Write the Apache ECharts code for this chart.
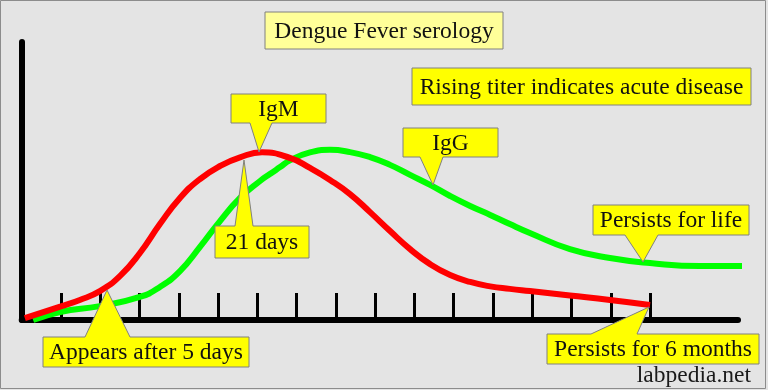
<!DOCTYPE html>
<html><head><meta charset="utf-8">
<script src="https://cdn.jsdelivr.net/npm/echarts@6/dist/echarts.min.js"></script>
<style>html,body{margin:0;padding:0;background:#e4e4e4}#c{width:768px;height:390px}</style>
</head><body><div id="c"></div>
<script>
// IgM (red) curve: x in tick units (one tick = one step), y = relative titer
const igmX = [0.08,1.00,1.48,1.99,2.50,3.01,3.52,4.03,4.54,5.05,5.56,6.12,6.83,7.34,7.85,8.36,8.87,9.38,9.89,10.40,10.91,11.42,11.93,12.43,12.94,13.96,14.98,16.00];
const igmY = [0.7,4.9,7.2,10.4,15.8,24.1,34.5,43.9,50.7,55.4,58.5,60.3,58.3,54.7,50.4,45.3,38.8,32.0,25.5,20.1,16.2,13.7,12.1,11.2,10.4,8.8,7.2,5.4];
// IgG (green) curve
const iggX = [0.29,0.98,1.99,3.01,3.52,4.03,4.54,5.05,5.56,6.07,6.32,6.58,6.83,7.34,7.85,8.36,8.87,9.38,9.89,10.40,10.91,11.42,11.93,12.43,12.94,13.96,14.98,16.00,17.27,18.42];
const iggY = [0,2.9,5.0,8.3,11.9,17.6,26.3,35.6,43.9,50.0,52.5,55.0,57.4,60.3,61.2,60.4,58.6,55.8,52.2,48.6,44.6,41.0,37.8,34.5,31.3,25.5,22.3,20.5,19.4,19.4];
// tick positions on the time axis
const tickDays = [1,2,3,4,5,6,7,8,9,10,11,12,13,14,15,16];
const xMin = 0, xMax = 18.24, yMin = 0, yMax = 100;

// callout annotations (layout, pixels)
const callouts = [
  {text:'Dengue Fever serology', box:[265,12,503,49], fill:'#ffff99'},
  {text:'Rising titer indicates acute disease', box:[412,68,751,105], fill:'#ffff00'},
  {text:'IgM', box:[231,94,326,123], fill:'#ffff00', side:'bottom', base:[250,272], tip:[259,152]},
  {text:'IgG', box:[403,128,498,157], fill:'#ffff00', side:'bottom', base:[420,443], tip:[433,185]},
  {text:'21 days', box:[215,226,309,258], fill:'#ffff00', side:'top', base:[235,253], tip:[244,160]},
  {text:'Persists for life', box:[593,205,749,235], fill:'#ffff00', side:'bottom', base:[625,658], tip:[643,262]},
  {text:'Persists for 6 months', box:[547,334,759,364], fill:'#ffff00', side:'top', base:[591,637], tip:[649,307]},
  {text:'Appears after 5 days', box:[43,337,249,367], fill:'#ffff00', side:'top', base:[85,130], tip:[107,290]}
];

function shapePoints(c){
  const [x0,y0,x1,y1] = c.box;
  if (c.side === 'bottom') {
    return [[x0,y0],[x1,y0],[x1,y1],[c.base[1],y1],c.tip,[c.base[0],y1],[x0,y1]];
  } else if (c.side === 'top') {
    return [[x0,y0],[c.base[0],y0],c.tip,[c.base[1],y0],[x1,y0],[x1,y1],[x0,y1]];
  }
  return [[x0,y0],[x1,y0],[x1,y1],[x0,y1]];
}

const FONT = '23.5px "Liberation Serif", "Times New Roman", serif';
const graphics = [
  {type:'rect', shape:{x:0.5,y:0.5,width:765,height:388}, style:{fill:'none', stroke:'#8c8c8c', lineWidth:1}, z:5}
];
callouts.forEach(c => {
  graphics.push({type:'polygon', shape:{points:shapePoints(c)}, style:{fill:c.fill, stroke:'#808080', lineWidth:1}, z:100});
  graphics.push({type:'text', x:(c.box[0]+c.box[2])/2, y:(c.box[1]+c.box[3])/2+1,
    style:{text:c.text, font:FONT, fill:'#111', align:'center', verticalAlign:'middle'}, z:101});
});
graphics.push({type:'text', x:751, y:376, style:{text:'labpedia.net', font:FONT, fill:'#1a1a1a', align:'right', verticalAlign:'middle'}, z:101});

const chart = echarts.init(document.getElementById('c'), null, {renderer:'canvas'});
chart.setOption({
  animation:false,
  backgroundColor:'#e4e4e4',
  grid:{left:21.7, right:30, top:42, bottom:70, containLabel:false},
  xAxis:{type:'value', min:xMin, max:xMax,
    axisLine:{show:true, lineStyle:{color:'#000', width:6}},
    axisTick:{show:true, inside:true, length:27, customValues:tickDays, lineStyle:{color:'#000', width:3}},
    axisLabel:{show:false}, splitLine:{show:false}},
  yAxis:{type:'value', min:yMin, max:yMax,
    axisLine:{show:true, lineStyle:{color:'#000', width:6}},
    axisTick:{show:false}, axisLabel:{show:false}, splitLine:{show:false}},
  series:[
    {type:'line', name:'IgG', data:iggX.map((x,i)=>[x,iggY[i]]), smooth:0.5, smoothConstraint:false, showSymbol:false, clip:false,
      lineStyle:{color:'#00ff00', width:6}, z:3},
    {type:'line', name:'IgM', data:igmX.map((x,i)=>[x,igmY[i]]), smooth:0.5, smoothConstraint:false, showSymbol:false, clip:false,
      lineStyle:{color:'#ff0000', width:6}, z:4}
  ],
  graphic:graphics
});
</script></body></html>
